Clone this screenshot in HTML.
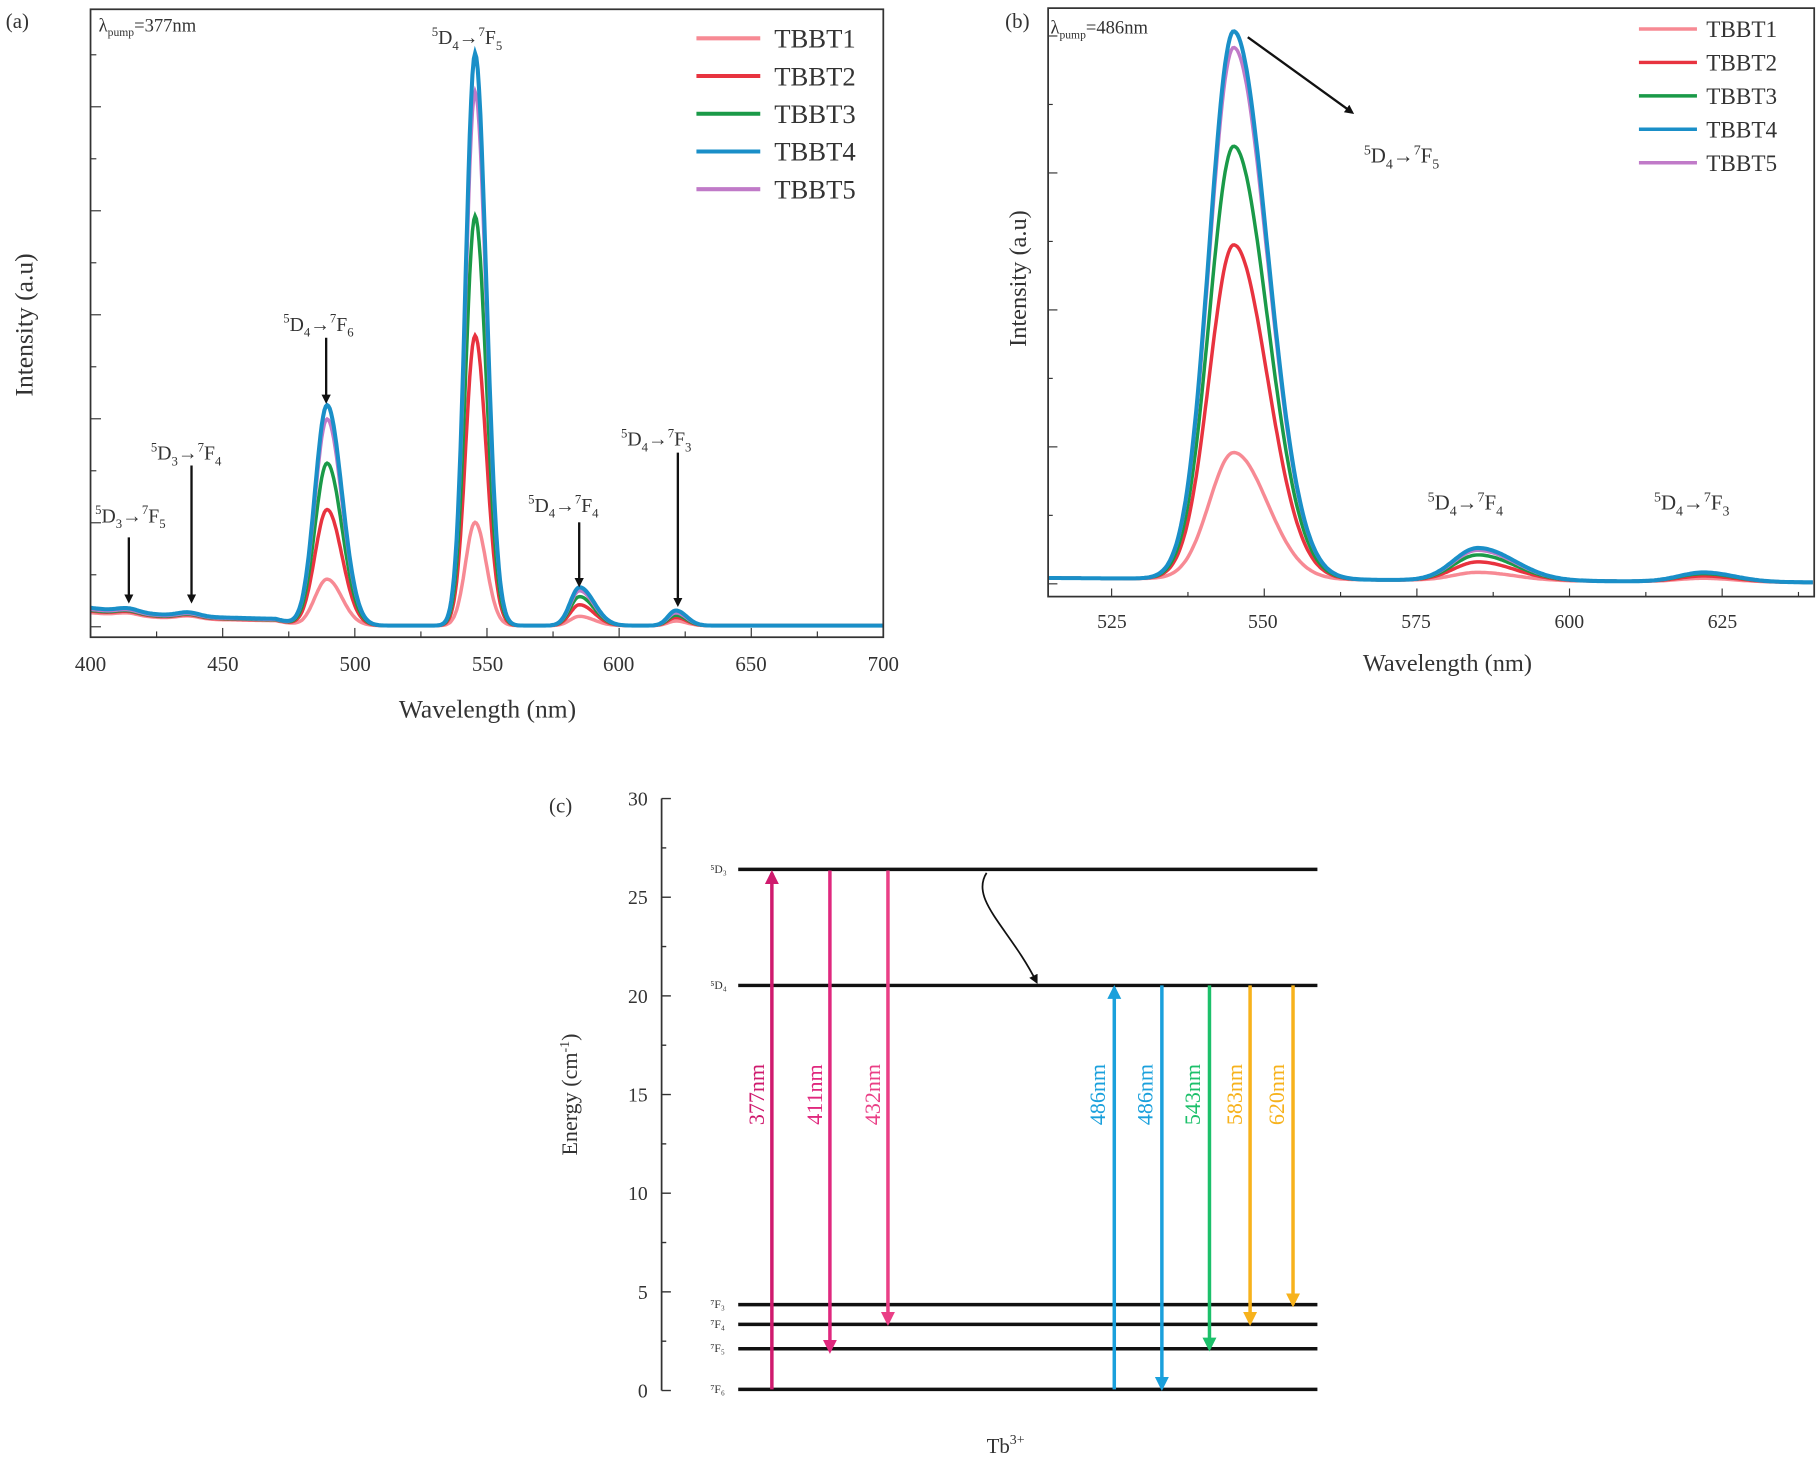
<!DOCTYPE html>
<html><head><meta charset="utf-8"><style>
body{margin:0;background:#fff}
svg{display:block}
text{font-family:"Liberation Serif",serif;fill:#333}
</style></head><body>
<svg id="s" width="1820" height="1459" viewBox="0 0 1568 1257" preserveAspectRatio="none" xmlns="http://www.w3.org/2000/svg">
<defs>
<marker id="ah" markerWidth="8" markerHeight="8" refX="6" refY="4" orient="auto" markerUnits="userSpaceOnUse"><path d="M0,0 L8,4 L0,8 z" fill="#111"/></marker>
<marker id="am" viewBox="0 0 10 10" markerWidth="12" markerHeight="16" refX="8" refY="5" orient="auto" markerUnits="userSpaceOnUse"><path d="M0,0 L10,5 L0,10 z" fill="context-stroke"/></marker>
</defs>
<g id="pa"></g><g id="pb"></g>
<rect x="78" y="8" width="683" height="541" fill="none" stroke="#333" stroke-width="1.5"/>
<text x="5" y="24" font-size="18">(a)</text>
<text x="85" y="27" font-size="16">λ<tspan font-size="10" dy="4">pump</tspan><tspan dy="-4">=377nm</tspan></text>
<text x="420" y="618" font-size="22" text-anchor="middle">Wavelength (nm)</text>
<text transform="translate(28,280) rotate(-90)" font-size="22" text-anchor="middle">Intensity (a.u)</text>
<g font-size="18" text-anchor="middle">
<text x="78" y="578">400</text><text x="192" y="578">450</text><text x="306" y="578">500</text><text x="420" y="578">550</text><text x="533" y="578">600</text><text x="647" y="578">650</text><text x="761" y="578">700</text>
</g>
<g font-size="17">
<text x="372" y="38"><tspan font-size="11" dy="-7">5</tspan><tspan dy="7">D</tspan><tspan font-size="11" dy="5">4</tspan><tspan dy="-5">→</tspan><tspan font-size="11" dy="-7">7</tspan><tspan dy="7">F</tspan><tspan font-size="11" dy="5">5</tspan></text>
<text x="244" y="285"><tspan font-size="11" dy="-7">5</tspan><tspan dy="7">D</tspan><tspan font-size="11" dy="5">4</tspan><tspan dy="-5">→</tspan><tspan font-size="11" dy="-7">7</tspan><tspan dy="7">F</tspan><tspan font-size="11" dy="5">6</tspan></text>
<text x="130" y="396"><tspan font-size="11" dy="-7">5</tspan><tspan dy="7">D</tspan><tspan font-size="11" dy="5">3</tspan><tspan dy="-5">→</tspan><tspan font-size="11" dy="-7">7</tspan><tspan dy="7">F</tspan><tspan font-size="11" dy="5">4</tspan></text>
<text x="82" y="450"><tspan font-size="11" dy="-7">5</tspan><tspan dy="7">D</tspan><tspan font-size="11" dy="5">3</tspan><tspan dy="-5">→</tspan><tspan font-size="11" dy="-7">7</tspan><tspan dy="7">F</tspan><tspan font-size="11" dy="5">5</tspan></text>
<text x="455" y="441"><tspan font-size="11" dy="-7">5</tspan><tspan dy="7">D</tspan><tspan font-size="11" dy="5">4</tspan><tspan dy="-5">→</tspan><tspan font-size="11" dy="-7">7</tspan><tspan dy="7">F</tspan><tspan font-size="11" dy="5">4</tspan></text>
<text x="535" y="384"><tspan font-size="11" dy="-7">5</tspan><tspan dy="7">D</tspan><tspan font-size="11" dy="5">4</tspan><tspan dy="-5">→</tspan><tspan font-size="11" dy="-7">7</tspan><tspan dy="7">F</tspan><tspan font-size="11" dy="5">3</tspan></text>
</g>
<g stroke="#111" stroke-width="2" marker-end="url(#ah)">
<line x1="281" y1="291" x2="281" y2="346"/>
<line x1="165" y1="401" x2="165" y2="518"/>
<line x1="111" y1="463" x2="111" y2="518"/>
<line x1="499" y1="450" x2="499" y2="504"/>
<line x1="584" y1="390" x2="584" y2="521"/>
</g>
<rect x="903" y="7" width="660" height="507" fill="none" stroke="#333" stroke-width="1.5"/>
<text x="866" y="24" font-size="18">(b)</text>
<text x="905" y="29" font-size="16">λ<tspan font-size="10" dy="4">pump</tspan><tspan dy="-4">=486nm</tspan></text>
<text x="1247" y="578" font-size="21" text-anchor="middle">Wavelength (nm)</text>
<text transform="translate(884,240) rotate(-90)" font-size="21" text-anchor="middle">Intensity (a.u)</text>
<g font-size="17" text-anchor="middle">
<text x="958" y="541">525</text><text x="1088" y="541">550</text><text x="1220" y="541">575</text><text x="1352" y="541">600</text><text x="1484" y="541">625</text>
</g>
<line x1="1075" y1="32" x2="1165" y2="97" stroke="#111" stroke-width="2" marker-end="url(#ah)"/>
<g font-size="18">
<text x="1175" y="140"><tspan font-size="12" dy="-7">5</tspan><tspan dy="7">D</tspan><tspan font-size="12" dy="5">4</tspan><tspan dy="-5">→</tspan><tspan font-size="12" dy="-7">7</tspan><tspan dy="7">F</tspan><tspan font-size="12" dy="5">5</tspan></text>
<text x="1230" y="439"><tspan font-size="12" dy="-7">5</tspan><tspan dy="7">D</tspan><tspan font-size="12" dy="5">4</tspan><tspan dy="-5">→</tspan><tspan font-size="12" dy="-7">7</tspan><tspan dy="7">F</tspan><tspan font-size="12" dy="5">4</tspan></text>
<text x="1425" y="439"><tspan font-size="12" dy="-7">5</tspan><tspan dy="7">D</tspan><tspan font-size="12" dy="5">4</tspan><tspan dy="-5">→</tspan><tspan font-size="12" dy="-7">7</tspan><tspan dy="7">F</tspan><tspan font-size="12" dy="5">3</tspan></text>
</g>
<g id="lg"></g>
<text x="473" y="700" font-size="18">(c)</text>
<line x1="570" y1="688" x2="570" y2="1198" stroke="#333" stroke-width="1.5"/>
<g id="cy" font-size="17" text-anchor="end"></g>
<text transform="translate(497,943) rotate(-90)" font-size="19" text-anchor="middle">Energy (cm<tspan font-size="12" dy="-7">-1</tspan><tspan dy="7">)</tspan></text>
<text x="850" y="1252" font-size="18">Tb<tspan font-size="12" dy="-8">3+</tspan></text>
<g stroke="#111" stroke-width="3">
<line x1="636" y1="749" x2="1135" y2="749"/><line x1="636" y1="849" x2="1135" y2="849"/>
<line x1="636" y1="1124" x2="1135" y2="1124"/><line x1="636" y1="1141" x2="1135" y2="1141"/>
<line x1="636" y1="1162" x2="1135" y2="1162"/><line x1="636" y1="1197" x2="1135" y2="1197"/>
</g>
<g font-size="10">
<text x="612" y="752">⁵D₃</text><text x="612" y="852">⁵D₄</text><text x="612" y="1127">⁷F₃</text><text x="612" y="1144">⁷F₄</text><text x="612" y="1165">⁷F₅</text><text x="612" y="1200">⁷F₆</text>
</g>
<path d="M850,752 C835,775 870,800 893,846" fill="none" stroke="#111" stroke-width="1.5" marker-end="url(#ah)"/>
<g stroke-width="3" marker-end="url(#am)" fill="none">
<line x1="665" y1="1197" x2="665" y2="752" stroke="#cf1b6e"/>
<line x1="715" y1="750" x2="715" y2="1164" stroke="#e0287e"/>
<line x1="765" y1="750" x2="765" y2="1140" stroke="#ea3f86"/>
<line x1="960" y1="1197" x2="960" y2="851" stroke="#1aa0dc"/>
<line x1="1001" y1="849" x2="1001" y2="1196" stroke="#1aa0dc"/>
<line x1="1042" y1="849" x2="1042" y2="1162" stroke="#1cc06a"/>
<line x1="1077" y1="849" x2="1077" y2="1140" stroke="#f7b21c"/>
<line x1="1114" y1="849" x2="1114" y2="1124" stroke="#f7b21c"/>
</g>
<g font-size="19" text-anchor="middle">
<text transform="translate(658,943) rotate(-90)" style="fill:#cf1b6e">377nm</text>
<text transform="translate(708,943) rotate(-90)" style="fill:#e0287e">411nm</text>
<text transform="translate(758,943) rotate(-90)" style="fill:#ea3f86">432nm</text>
<text transform="translate(952,943) rotate(-90)" style="fill:#1aa0dc">486nm</text>
<text transform="translate(993,943) rotate(-90)" style="fill:#1aa0dc">486nm</text>
<text transform="translate(1034,943) rotate(-90)" style="fill:#1cc06a">543nm</text>
<text transform="translate(1070,943) rotate(-90)" style="fill:#f7b21c">583nm</text>
<text transform="translate(1106,943) rotate(-90)" style="fill:#f7b21c">620nm</text>
</g>
</svg>
<script>
var NS="http://www.w3.org/2000/svg",s=document.getElementById('s');
function el(p,t,a,txt){var e=document.createElementNS(NS,t);for(var k in a)e.setAttribute(k,a[k]);if(txt)e.textContent=txt;p.appendChild(e);return e;}
var cols=["#f78a94","#e8333f","#1a9a48","#1a8fc8","#c07ac8"],order=[0,1,2,4,3];
function g(x,m,s1,s2){var sg=x<m?s1:s2;return Math.exp(-0.5*Math.pow((x-m)/sg,2));}
var pa=document.getElementById('pa');
var A={489:[40,100,140,190,178],545:[89,250,353,493,460],585:[8,18,25,33,30],621:[4,7,9,13,11]};
var bgS=[0.8,0.9,0.95,1.1,1.0];
order.forEach(function(i){var d="";for(var x=400;x<=700;x+=0.5){
 var h=2+ (x<480? (10*Math.exp(-(x-400)/35)+4)*bgS[i]*(x<470?1:(480-x)/10+0):0)
 +3*g(x,414,4,4)*bgS[i]+3*g(x,437,4,4)*bgS[i]
 +A[489][i]*g(x,489.5,4.6,5.6)+A[545][i]*g(x,545.5,3.6,4.2)+A[585][i]*g(x,585,3.5,5.5)+A[621][i]*g(x,621.5,3,4);
 var X=78+(x-400)*2.277,Y=541-h;d+=(d?"L":"M")+X.toFixed(1)+","+Y.toFixed(1);}
 el(pa,"path",{d:d,fill:"none",stroke:cols[i],"stroke-width":i==3?3.5:3});});
for(var k=0;k<=12;k++){var y=540-k*44.8;if(y<12)break;el(pa,"line",{x1:78,x2:k%2?83:87,y1:y,y2:y,stroke:"#333","stroke-width":1});}
for(var x=400;x<=700;x+=25){var X=78+(x-400)*2.277;el(pa,"line",{x1:X,x2:X,y1:549,y2:x%50?544:541,stroke:"#333","stroke-width":1});}
var pb=document.getElementById('pb');
var B={545:[109,288,373,472,458],585:[7,16,22,28,26],622:[3,5,7,8,8]};
order.forEach(function(i){var d="";for(var x=514.6;x<=640;x+=0.25){
 var h=2-(x-515)*0.03+B[545][i]*g(x,545,4,5.5)+B[585][i]*g(x,585,4,6)+B[622][i]*g(x,622,4,5);
 var X=903+(x-514.6)*5.26,Y=500-h;d+=(d?"L":"M")+X.toFixed(1)+","+Y.toFixed(1);}
 el(pb,"path",{d:d,fill:"none",stroke:cols[i],"stroke-width":i==3?3.5:3});});
for(var k=0;k<9;k++){var y=503-k*59;if(y<10)break;el(pb,"line",{x1:903,x2:k%2?907:911,y1:y,y2:y,stroke:"#333","stroke-width":1});}
for(var x=525;x<=640;x+=12.5){var X=903+(x-514.6)*5.26;el(pb,"line",{x1:X,x2:X,y1:514,y2:(x-525)%25?510:507,stroke:"#333","stroke-width":1});}
var lg=document.getElementById('lg');
for(var i=0;i<5;i++){var y=33+i*32.5;el(lg,"line",{x1:600,x2:655,y1:y,y2:y,stroke:cols[i],"stroke-width":3.5});
 el(lg,"text",{x:667,y:y+8,"font-size":23},"TBBT"+(i+1));
 var y2=25+i*28.8;el(lg,"line",{x1:1412,x2:1462,y1:y2,y2:y2,stroke:cols[i],"stroke-width":3});
 el(lg,"text",{x:1470,y:y2+7,"font-size":20},"TBBT"+(i+1));}
var cy=document.getElementById('cy');
for(var v=0;v<=30;v+=2.5){var y=1198-v*17;el(s,"line",{x1:570,x2:v%5?574:578,y1:y,y2:y,stroke:"#333","stroke-width":1.2});
 if(v%5==0)el(cy,"text",{x:558,y:y+6},""+v);}
</script>
</body></html>
